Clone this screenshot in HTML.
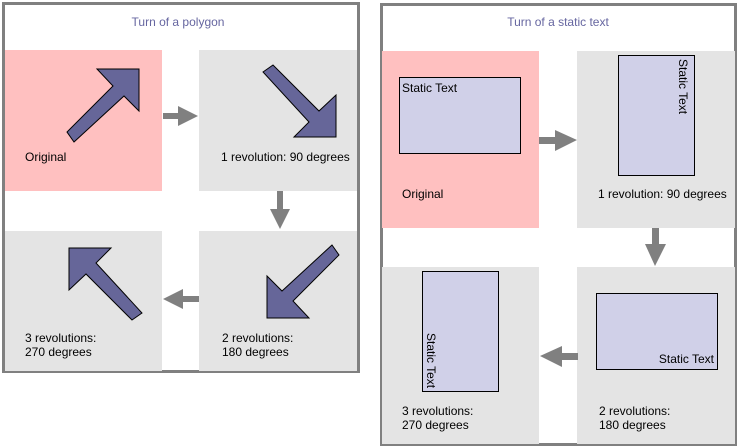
<!DOCTYPE html>
<html><head><meta charset="utf-8"><style>
html,body{margin:0;padding:0;background:#fff;}
svg{display:block;font-family:"Liberation Sans",Arial,sans-serif;}
</style></head><body>
<svg width="740" height="448" viewBox="0 0 740 448" xmlns="http://www.w3.org/2000/svg">
<!-- Left frame -->
<rect x="3.5" y="3.5" width="355" height="368" fill="#fff" stroke="#808080" stroke-width="3"/>
<text x="178" y="26" font-size="12" fill="#6666a0" text-anchor="middle">Turn of a polygon</text>
<rect x="5" y="50" width="157" height="141" fill="#ffc0c0"/>
<rect x="199" y="50" width="158" height="141" fill="#e4e4e4"/>
<rect x="5" y="231" width="157" height="140" fill="#e4e4e4"/>
<rect x="199" y="231" width="158" height="140" fill="#e4e4e4"/>
<g fill="#666699" stroke="#000" stroke-width="1">
<polygon transform="translate(103,105)" points="-29,37 -36,27 10,-19 -6,-36 36,-36 36,6 21,-9"/>
<polygon transform="translate(300,101)" points="-37,-29 -27,-36 19,10 36,-6 36,36 -6,36 9,21"/>
<polygon transform="translate(303,282)" points="29,-37 36,-27 -10,19 6,36 -36,36 -36,-6 -21,9"/>
<polygon transform="translate(105,284)" points="37,29 27,36 -19,-10 -36,6 -36,-36 6,-36 -9,-21"/>
</g>
<g font-size="12" fill="#000">
<text x="25" y="161">Original</text>
<text x="221" y="161">1 revolution: 90 degrees</text>
<text x="25" y="342">3 revolutions:</text><text x="25" y="356">270 degrees</text>
<text x="222" y="342">2 revolutions:</text><text x="222" y="356">180 degrees</text>
</g>
<g fill="#808080">
<rect x="163" y="113" width="17" height="6"/><polygon points="178,106 198,116 178,126"/>
<rect x="277" y="191" width="6" height="20"/><polygon points="270,209 290,209 280,229"/>
<rect x="182" y="296" width="17" height="6"/><polygon points="183,289 163,299 183,309"/>
</g>

<!-- Right frame -->
<rect x="381.5" y="4.5" width="354" height="440" fill="#fff" stroke="#808080" stroke-width="3"/>
<text x="558" y="26" font-size="12" fill="#6666a0" text-anchor="middle">Turn of a static text</text>
<rect x="382" y="51" width="157" height="177" fill="#ffc0c0"/>
<rect x="577" y="51" width="158" height="177" fill="#e4e4e4"/>
<rect x="382" y="267" width="157" height="177" fill="#e4e4e4"/>
<rect x="577" y="267" width="158" height="177" fill="#e4e4e4"/>
<g fill="#d0d0e8" stroke="#000" stroke-width="1">
<rect x="399.5" y="77.5" width="121" height="76"/>
<rect x="618.5" y="55.5" width="76" height="120"/>
<rect x="596.5" y="293.5" width="121" height="76"/>
<rect x="422.5" y="271.5" width="76" height="120"/>
</g>
<g font-size="12" fill="#000">
<text x="402" y="92">Static Text</text>
<text transform="translate(679,59) rotate(90)">Static Text</text>
<text x="714" y="363" text-anchor="end">Static Text</text>
<text transform="translate(427,333) rotate(90)">Static Text</text>
<text x="402" y="198">Original</text>
<text x="598" y="198">1 revolution: 90 degrees</text>
<text x="402" y="415">3 revolutions:</text><text x="402" y="429">270 degrees</text>
<text x="599" y="415">2 revolutions:</text><text x="599" y="429">180 degrees</text>
</g>
<g fill="#808080">
<rect x="539" y="137" width="18" height="7"/><polygon points="555,130 577,140 555,151"/>
<rect x="652" y="228" width="7" height="18"/><polygon points="645,244 666,244 655,266"/>
<rect x="560" y="353" width="18" height="7"/><polygon points="562,346 540,356 562,367"/>
</g>
</svg>
</body></html>
